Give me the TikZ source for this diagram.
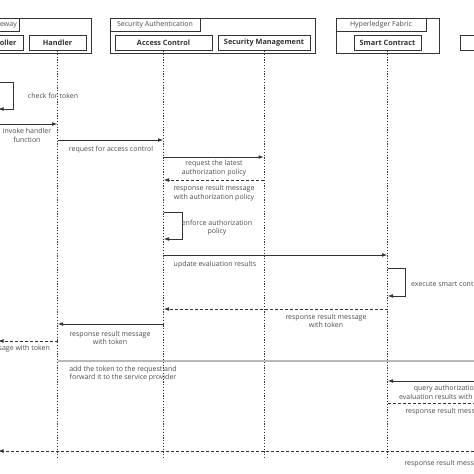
\documentclass[tikz,border=0pt]{standalone}
\usepackage{fontspec}
\setmainfont{Open Sans}
\usetikzlibrary{arrows.meta}
\definecolor{ink}{HTML}{333333}
\definecolor{txt}{HTML}{4d4d4d}
\tikzset{
  actor/.style={draw=ink, line width=0.9pt, fill=white, minimum height=15pt, inner sep=0pt,
    font=\fontsize{7.3}{8}\selectfont\bfseries, text=ink},
  grp/.style={draw=ink, line width=0.8pt},
  tabtxt/.style={font=\fontsize{7}{8}\selectfont, text=txt, inner sep=0pt},
  lbl/.style={font=\fontsize{7}{8.4}\selectfont, text=txt, align=center, inner sep=0pt},
  lifeline/.style={draw=ink, line width=1pt, dash pattern=on 1.3pt off 1.5pt},
  msg/.style={draw=ink, line width=1pt, -{Latex[length=5.5pt,width=3.8pt]}},
  ret/.style={msg, dash pattern=on 3pt off 2pt},
}
\begin{document}
\begin{tikzpicture}[x=1pt,y=-1pt]
\useasboundingbox (0,0) rectangle (474,474);
\clip (0,0) rectangle (474,474);
\fill[white] (0,0) rectangle (474,474);
% groups
\draw[grp] (-32,18) rectangle (91,53);
\draw[grp] (-32,18) rectangle (19,31);
\node[tabtxt, anchor=east] (tg) at (17,24.8) {API Gateway};
\draw[grp] (110,18) rectangle (315,53);
\draw[grp] (110,18) rectangle (200,31);
\node[tabtxt] (ts) at (155,24.8) {Security Authentication};
\draw[grp] (336,18) rectangle (439,53);
\draw[grp] (336,18) rectangle (426,31);
\node[tabtxt] (th) at (381,24.8) {Hyperledger Fabric};
% actors
\node[actor, minimum width=50pt] (ctrl) at (-2,43) {Controller};
\node[actor, minimum width=57pt] (hand) at (57.5,43) {Handler};
\node[actor, minimum width=97pt] (ac) at (163.5,43) {Access Control};
\node[actor, minimum width=92pt] (sm) at (264,43) {Security Management};
\node[actor, minimum width=67pt] (sc) at (387.5,43) {Smart Contract};
\node[actor, minimum width=88pt] (sp) at (504,43) {Service Provider};
% lifeline ends
\coordinate (ctrlE) at (-2,457);
\coordinate (handE) at (57.5,457);
\coordinate (acE) at (163.5,457);
\coordinate (smE) at (264,457);
\coordinate (scE) at (387.5,457);
\coordinate (spE) at (504,457);
\draw[lifeline] (ctrl.south) -- (ctrlE);
\draw[lifeline] (hand.south) -- (handE);
\draw[lifeline] (ac.south) -- (acE);
\draw[lifeline] (sm.south) -- (smE);
\draw[lifeline] (sc.south) -- (scE);
\draw[lifeline] (sp.south) -- (spE);
% messages
\draw[msg] (ctrl.south |- 0,82) -- (13,82) -- (13,109) -- (ctrl.south |- 0,109);
\node[lbl] (l1) at (53,96) {check for token};
\draw[msg] (ctrl.south |- 0,124) -- (hand.south |- 0,124);
\node[lbl] (l2) at (27,135.5) {invoke handler\\function};
\draw[msg] (hand.south |- 0,140) -- (ac.south |- 0,140);
\node[lbl] (l3) at (111,150) {request for access control};
\draw[msg] (ac.south |- 0,157) -- (sm.south |- 0,157);
\node[lbl] (l4) at (214,168) {request the latest\\authorization policy};
\draw[ret] (sm.south |- 0,180) -- (ac.south |- 0,180);
\node[lbl] (l5) at (214,193) {response result message\\with authorization policy};
\draw[msg] (ac.south |- 0,212) -- (182,212) -- (182,239) -- (ac.south |- 0,239);
\node[lbl] (l6) at (217,227.5) {enforce authorization\\policy};
\draw[msg] (ac.south |- 0,255) -- (sc.south |- 0,255);
\node[lbl] (l7) at (215,265) {update evaluation results};
\draw[msg] (sc.south |- 0,268) -- (405,268) -- (405,296) -- (sc.south |- 0,296);
\node[lbl, anchor=west] (l8) at (411,284) {execute smart contract};
\draw[ret] (sc.south |- 0,309) -- (ac.south |- 0,309);
\node[lbl] (l9) at (326,321) {response result message\\with token};
\draw[msg] (ac.south |- 0,324) -- (hand.south |- 0,324);
\node[lbl] (l10) at (110,338) {response result message\\with token};
\draw[ret] (hand.south |- 0,341) -- (ctrl.south |- 0,341);
\node[lbl, anchor=east] (l11) at (50,349) {response result message with token};
\draw[msg, draw=gray!55, line width=1.4pt] (hand.south |- 0,361) -- (sp.south |- 0,361);
\node[lbl] (l12) at (123,373.5) {add the token to the request and\\forward it to the service provider};
\draw[msg] (sp.south |- 0,381) -- (sc.south |- 0,381);
\node[lbl] (l13) at (446,392.5) {query authorization\\evaluation results with token};
\draw[ret] (sc.south |- 0,403) -- (sp.south |- 0,403);
\node[lbl] (l14) at (446,412) {response result message};
\draw[ret] (sp.south |- 0,451) -- (ctrl.south |- 0,451);
\node[lbl] (l15) at (445,464) {response result message};
\end{tikzpicture}
\end{document}
